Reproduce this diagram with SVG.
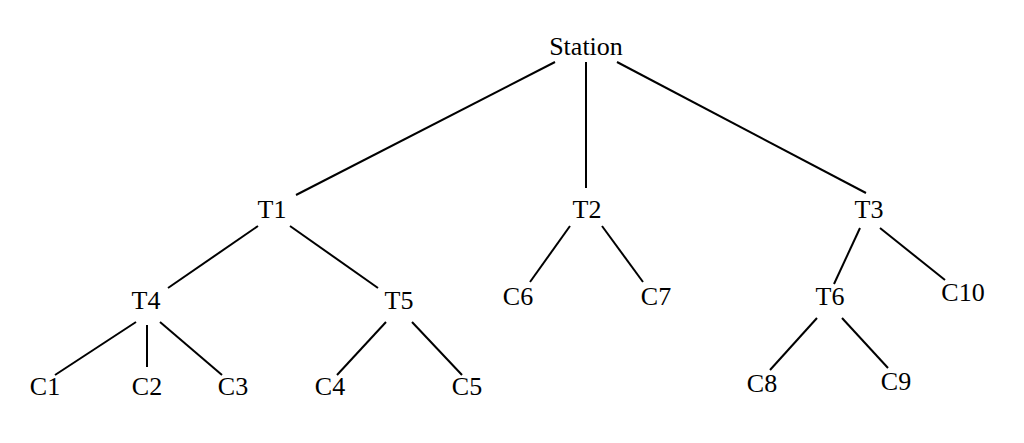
<svg xmlns="http://www.w3.org/2000/svg" width="1024" height="443" viewBox="0 0 1024 443">
<style>
text{font-family:"Liberation Serif",serif;font-size:26px;fill:#000;text-anchor:middle}
.c line{stroke:#000;stroke-width:2}
</style>
<rect width="1024" height="443" fill="#fff"/>
<g class="c" id="connectors">
<line x1="555" y1="62" x2="296" y2="195"/>
<line x1="586" y1="62" x2="586" y2="188"/>
<line x1="617" y1="62" x2="866" y2="193"/>
<line x1="258" y1="226" x2="168" y2="288"/>
<line x1="290" y1="226" x2="378" y2="288"/>
<line x1="570" y1="226" x2="530" y2="282"/>
<line x1="602" y1="226" x2="643" y2="282"/>
<line x1="860" y1="228" x2="834" y2="284"/>
<line x1="880" y1="228" x2="945" y2="280"/>
<line x1="136" y1="322" x2="55" y2="375"/>
<line x1="147" y1="325" x2="147" y2="367"/>
<line x1="160" y1="322" x2="222" y2="375"/>
<line x1="386" y1="322" x2="337" y2="375"/>
<line x1="412" y1="322" x2="462" y2="375"/>
<line x1="817" y1="318" x2="770" y2="370"/>
<line x1="842" y1="318" x2="888" y2="368"/>
</g>
<g id="station"><text x="586" y="55">Station</text></g>
<g id="t1"><text x="272" y="218">T1</text></g>
<g id="t2"><text x="587" y="218">T2</text></g>
<g id="t3"><text x="869" y="218">T3</text></g>
<g id="t4"><text x="146" y="309">T4</text></g>
<g id="t5"><text x="399" y="309">T5</text></g>
<g id="c6"><text x="518" y="305">C6</text></g>
<g id="c7"><text x="656" y="305">C7</text></g>
<g id="t6"><text x="830" y="305">T6</text></g>
<g id="c10"><text x="963" y="301">C10</text></g>
<g id="c1"><text x="45" y="395">C1</text></g>
<g id="c2"><text x="147" y="395">C2</text></g>
<g id="c3"><text x="233" y="395">C3</text></g>
<g id="c4"><text x="330" y="395">C4</text></g>
<g id="c5"><text x="467" y="395">C5</text></g>
<g id="c8"><text x="762" y="392">C8</text></g>
<g id="c9"><text x="896" y="390">C9</text></g>
</svg>
